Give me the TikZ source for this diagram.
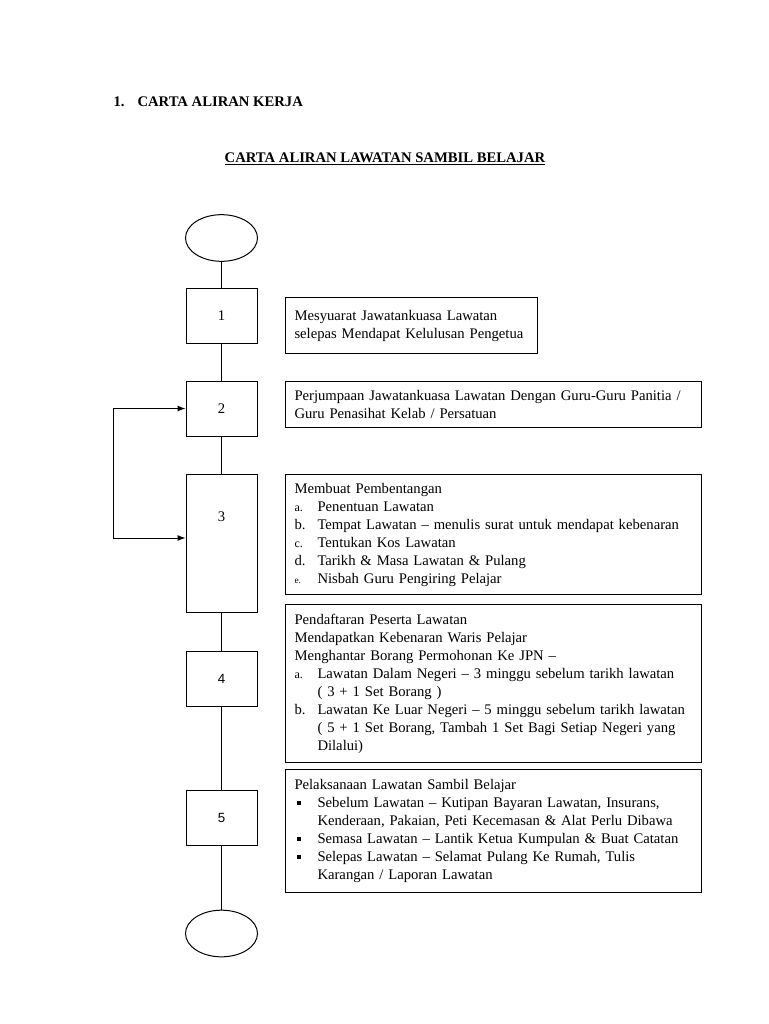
\documentclass[tikz,border=0pt]{standalone}
\usepackage{fontspec}
\setmainfont{Liberation Serif}
\newfontfamily\numsans{Liberation Sans}
\usetikzlibrary{shapes.geometric,arrows.meta}
\hyphenpenalty=10000
\exhyphenpenalty=10000
\newcommand\itm[2]{\par\noindent\hangindent=17.25pt\hangafter=1\makebox[17.25pt][l]{#1}#2}
\newcommand\bul[1]{\par\noindent\hangindent=17.25pt\hangafter=1\makebox[17.25pt][l]{\hspace{1.5pt}\rule[2pt]{3pt}{3pt}}#1}
\begin{document}
\begin{tikzpicture}[x=0.75pt,y=-0.75pt,line width=0.75pt,
  numbox/.style={draw,minimum width=53.25pt,minimum height=41.25pt,inner sep=0pt,font=\fontsize{11}{13.5}\selectfont},
  term/.style={draw,ellipse,minimum width=54pt,minimum height=35pt,inner sep=0pt},
  infobox/.style={draw,anchor=north west,align=left,inner xsep=6.75pt,inner ysep=2pt,font=\fontsize{11}{13.5}\selectfont},
  link/.style={draw},
  fb/.style={{Latex[length=6pt,width=4.5pt]}-{Latex[length=6pt,width=4.5pt]}},
  titlefont/.style={font=\fontsize{11}{14}\selectfont\bfseries,inner sep=0pt}]
\useasboundingbox (0,0) rectangle (768,1024);
% titles
\node[titlefont,anchor=base west] (t1a) at (113,107) {1.};
\node[titlefont,anchor=base west] (t1b) at (137,107) {CARTA ALIRAN KERJA};
\node[titlefont,anchor=base] (t2) at (385,162) {\underline{CARTA ALIRAN LAWATAN SAMBIL BELAJAR}};
% flow column
\node[term] (st) at (221.5,238) {};
\node[numbox] (n1) at (221.5,315.5) {1};
\node[numbox] (n2) at (221.5,408.5) {2};
\node[numbox,minimum height=103.5pt] (n3) at (221.5,543) {\raisebox{16pt}[0pt][0pt]{3}};
\node[numbox,font=\numsans\fontsize{10}{12}\selectfont] (n4) at (221.5,678.5) {4};
\node[numbox,font=\numsans\fontsize{10}{12}\selectfont] (n5) at (221.5,818) {5};
\node[term] (en) at (221.5,933.5) {};
\draw[link] (st) -- (n1);
\draw[link] (n1) -- (n2);
\draw[link] (n2) -- (n3);
\draw[link] (n3) -- (n4);
\draw[link] (n4) -- (n5);
\draw[link] (n5) -- (en);
% feedback loop
\coordinate (lt) at (113,408.5);
\coordinate (lb) at (113,538);
\draw[fb] (lt -| n2.west) -- (lt) -- (lb) -- (lb -| n3.west);
% info boxes
\node[infobox,minimum width=189pt,minimum height=42pt,text width=175.5pt] (i1) at (285,297)
 {\mbox{Mesyuarat Jawatankuasa Lawatan}\newline \mbox{selepas Mendapat Kelulusan Pengetua}\par};
\node[infobox,minimum width=312pt,minimum height=34.5pt,text width=298.5pt] (i2) at (285,381)
 {\mbox{Perjumpaan Jawatankuasa Lawatan Dengan Guru-Guru Panitia /}\newline \mbox{Guru Penasihat Kelab / Persatuan}\par};
\node[infobox,minimum width=312pt,minimum height=90pt,text width=298.5pt] (i3) at (285,474)
 {\noindent Membuat Pembentangan
  \itm{\small a.}{Penentuan Lawatan}
  \itm{b.}{\mbox{Tempat Lawatan -- menulis surat untuk mendapat kebenaran}}
  \itm{\small c.}{Tentukan Kos Lawatan}
  \itm{d.}{Tarikh \& Masa Lawatan \& Pulang}
  \itm{\scriptsize e.}{Nisbah Guru Pengiring Pelajar}\par};
\node[infobox,minimum width=312pt,minimum height=118.5pt,text width=298.5pt] (i4) at (285,604)
 {\noindent Pendaftaran Peserta Lawatan\newline
  Mendapatkan Kebenaran Waris Pelajar\newline
  Menghantar Borang Permohonan Ke JPN --
  \itm{\small a.}{\mbox{Lawatan Dalam Negeri -- 3 minggu sebelum tarikh lawatan}\newline ( 3 + 1 Set Borang )}
  \itm{b.}{\mbox{Lawatan Ke Luar Negeri -- 5 minggu sebelum tarikh lawatan}\newline \mbox{( 5 + 1 Set Borang, Tambah 1 Set Bagi Setiap Negeri yang}\newline Dilalui)}\par};
\node[infobox,minimum width=312pt,minimum height=92.25pt,text width=298.5pt] (i5) at (285,769)
 {\noindent Pelaksanaan Lawatan Sambil Belajar
  \bul{\mbox{Sebelum Lawatan -- Kutipan Bayaran Lawatan, Insurans,}\newline \mbox{Kenderaan, Pakaian, Peti Kecemasan \& Alat Perlu Dibawa}}
  \bul{\mbox{Semasa Lawatan -- Lantik Ketua Kumpulan \& Buat Catatan}}
  \bul{\mbox{Selepas Lawatan -- Selamat Pulang Ke Rumah, Tulis}\newline Karangan / Laporan Lawatan}\par};
\end{tikzpicture}
\end{document}
